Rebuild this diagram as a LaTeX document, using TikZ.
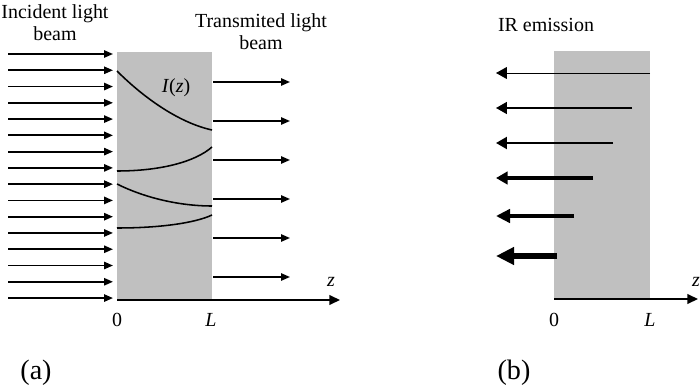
\documentclass[tikz,border=0pt]{standalone}
\usepackage{fontspec}
\setmainfont{Liberation Serif}
\usetikzlibrary{arrows.meta}
\definecolor{gris}{RGB}{192,192,192}

\begin{document}
\begin{tikzpicture}[
        x=0.025cm, y=-0.025cm,
        every node/.style={font=\fontsize{14.2}{15.5}\selectfont, inner sep=0pt},
        placa/.style={fill=gris},
        haz/.style={-{Triangle[length=6.4pt, width=5.2pt]}, line width=1.3pt},
        eje/.style={-{Triangle[length=7.5pt, width=6.8pt]}, line width=1.4pt},
        curva/.style={line width=1.1pt},
        rotulo/.style={align=center},
        panel/.style={font=\fontsize{20}{22}\selectfont}
    ]
    \useasboundingbox (0,0) rectangle (700,388);

% --- Panel (a): haz incidente y transmitido ---
        \fill[placa] (117,52) rectangle (212,300);

        \foreach \k in {0,...,15}
            \draw[haz] (8,{54+16.27*\k}) -- (113,{54+16.27*\k});

        \foreach \y in {82,121,160,199,238,277}
            \draw[haz] (213,\y) -- (290,\y);

% --- Curvas de intensidad ---
        \draw[curva] (117,71) .. controls (145,99) and (180,123) .. (212,130);
        \draw[curva] (117,171) .. controls (160,171) and (195,162) .. (212,147);
        \draw[curva] (117,184) .. controls (145,198) and (180,206) .. (212,206);
        \draw[curva] (117,228) .. controls (160,228) and (195,223) .. (212,215);

        \draw[eje] (117,300) -- (340,300);

        \node[rotulo] (incidente) at (55,23) {Incident light\\beam};
        \node[rotulo] (transmitido) at (261,32) {Transmited light\\beam};
        \node (intensidad) at (176,88) {\textit{I}(\textit{z})};
        \node (z_a) at (331,282) {\textit{z}};
        \node (cero_a) at (117,320) {0};
        \node (largo_a) at (211,320) {\textit{L}};
        \node[panel] (panel_a) at (36,373) {(a)};

% --- Panel (b): emision IR ---
        \fill[placa] (554,51) rectangle (650,299);

        \foreach \x/\y/\w/\l/\a in {650/73/0.7/7.8/8.5, 632/108/1.2/7.8/8.5,
                613/143/1.6/7.8/8.5, 593/178/2.2/8.2/8.8, 574/216/3.2/10/9.5,
                557/256/4.5/12.8/12}
            \draw[line width=\w pt, -{Triangle[length=\l pt, width=\a pt]}] (\x,\y) -- (496,\y);

        \draw[eje] (554,299) -- (698,299);

        \node (emision) at (546,25) {IR emission};
        \node (z_b) at (696,282) {\textit{z}};
        \node (cero_b) at (554,320) {0};
        \node (largo_b) at (650,320) {\textit{L}};
        \node[panel] (panel_b) at (514,373) {(b)};
    \end{tikzpicture}
\end{document}
